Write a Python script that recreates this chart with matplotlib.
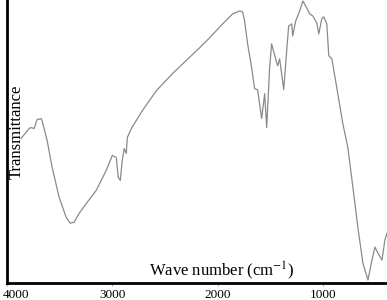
import numpy as np
import matplotlib
matplotlib.use("Agg")
import matplotlib.pyplot as plt
from matplotlib.transforms import ScaledTranslation

# IR spectrum (wave number in cm-1, transmittance in arbitrary units)
wavenumber = [3867, 3790, 3771, 3743, 3714, 3676, 3667, 3619, 3571, 3505,
              3438, 3400, 3362, 3314, 3238, 3152, 3057, 3000, 2962, 2943,
              2924, 2905, 2886, 2867, 2857, 2819, 2714, 2581, 2429, 2171,
              2076, 1952, 1857, 1790, 1762, 1743, 1714, 1676, 1648, 1619,
              1581, 1552, 1533, 1505, 1486, 1476, 1438, 1429, 1410, 1371,
              1343, 1324, 1295, 1286, 1257, 1219, 1190, 1152, 1124, 1095,
              1057, 1038, 1010, 990, 962, 943, 914, 867, 810, 762,
              714, 667, 619, 571, 533, 505, 476, 438, 410, 390]
transmittance = [145, 155, 156, 155, 164, 165, 163, 143, 116, 86,
                 66, 60, 61, 70, 81, 93, 113, 128, 126, 106,
                 103, 123, 135, 130, 146, 155, 173, 193, 210, 236,
                 246, 260, 270, 273, 272, 263, 240, 216, 195, 194,
                 165, 190, 156, 216, 240, 236, 221, 218, 225, 194,
                 233, 258, 260, 248, 263, 273, 283, 276, 270, 268,
                 261, 250, 265, 267, 260, 228, 225, 196, 160, 136,
                 96, 56, 20, 3, 23, 36, 30, 23, 43, 50]

xticks = [4000, 3000, 2000, 1000]

plt.rcParams['font.family'] = ['Liberation Serif', 'DejaVu Serif']

fig = plt.figure(figsize=(3.87, 3.0), dpi=100)
ax = fig.add_axes([7/387, 17/300, 1 - 7/387, 283/300])

ax.plot(wavenumber, transmittance, color="#8a8a8a", lw=0.9)

ax.set_xlim(4000, 390)
ax.set_ylim(0, 284)
ax.set_xticks(xticks)
ax.set_xticklabels([str(t) for t in xticks], fontsize=9.5)
ax.tick_params(axis="x", length=2, width=0.6, color="#999999", pad=2)
ax.set_yticks([])

# first label sits against the left edge of the picture
first = ax.get_xticklabels()[0]
first.set_transform(first.get_transform() + ScaledTranslation(9/100, 0, fig.dpi_scale_trans))

ax.spines["top"].set_visible(False)
ax.spines["right"].set_visible(False)
ax.spines["left"].set_linewidth(2)
ax.spines["bottom"].set_linewidth(2)

fig.text(17/387, 1 - 132/300, "Transmittance", rotation=90, fontsize=12,
         ha="center", va="center")
fig.text(222/387, 1 - 271/300, "Wave number (cm$^{-1}$)", fontsize=12,
         ha="center", va="center", math_fontfamily="stix")

fig.savefig("out.png", dpi=100)
